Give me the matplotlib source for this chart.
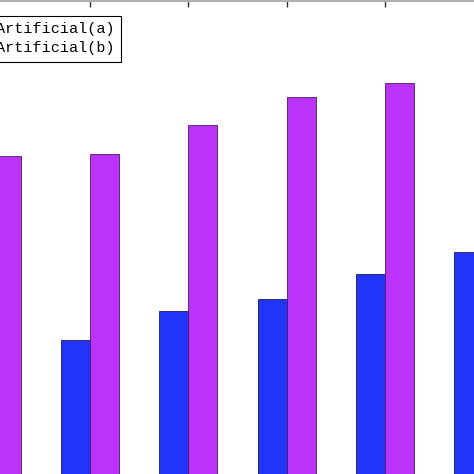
import numpy as np
import matplotlib.pyplot as plt

# Group positions and bar heights (arbitrary units, 0-100)
groups = np.arange(6)
series_a = [38.0, 40.8, 45.9, 48.0, 52.4, 56.2]  # Artificial(a), blue
series_b = [72.9, 73.3, 78.4, 83.2, 85.7, 88.0]  # Artificial(b), magenta
labels = ['Artificial(a)', 'Artificial(b)']

fig = plt.figure(figsize=(4.74, 4.74), dpi=100)
# axes reach past the picture on the left, right and bottom (cropped view)
ax = fig.add_axes([0, -0.211, 1, 1.209])

w = 0.295
ax.bar(groups - w / 2, series_a, width=w, color='#2135fa', edgecolor='#1a1a60', linewidth=0.6, label=labels[0])
ax.bar(groups + w / 2, series_b, width=w, color='#bb33fa', edgecolor='#4a1a60', linewidth=0.6, label=labels[1])

for side in ['left', 'right', 'bottom']:
    ax.spines[side].set_visible(False)
ax.spines['top'].set_color('#b0b0b0')
ax.spines['top'].set_linewidth(1.5)

ax.set_xticks(groups)
ax.tick_params(axis='x', which='both', top=True, bottom=False, direction='in',
               length=4, width=1, color='#333333', labeltop=False, labelbottom=False)
ax.set_yticks([])
# set limits after the ticks so they are not widened
ax.set_xlim(0.0844, 4.906)
ax.set_ylim(0, 100)

leg = ax.legend(loc='upper right', bbox_to_anchor=(121 / 474, 1 - 15.5 / 474),
                bbox_transform=fig.transFigure, borderaxespad=0, borderpad=0.45,
                labelspacing=0.3, fancybox=False, framealpha=1, edgecolor='black',
                prop={'family': 'Liberation Mono', 'size': 10.9}, handlelength=2)
leg.get_frame().set_linewidth(0.8)

fig.savefig('out.png', dpi=100)
